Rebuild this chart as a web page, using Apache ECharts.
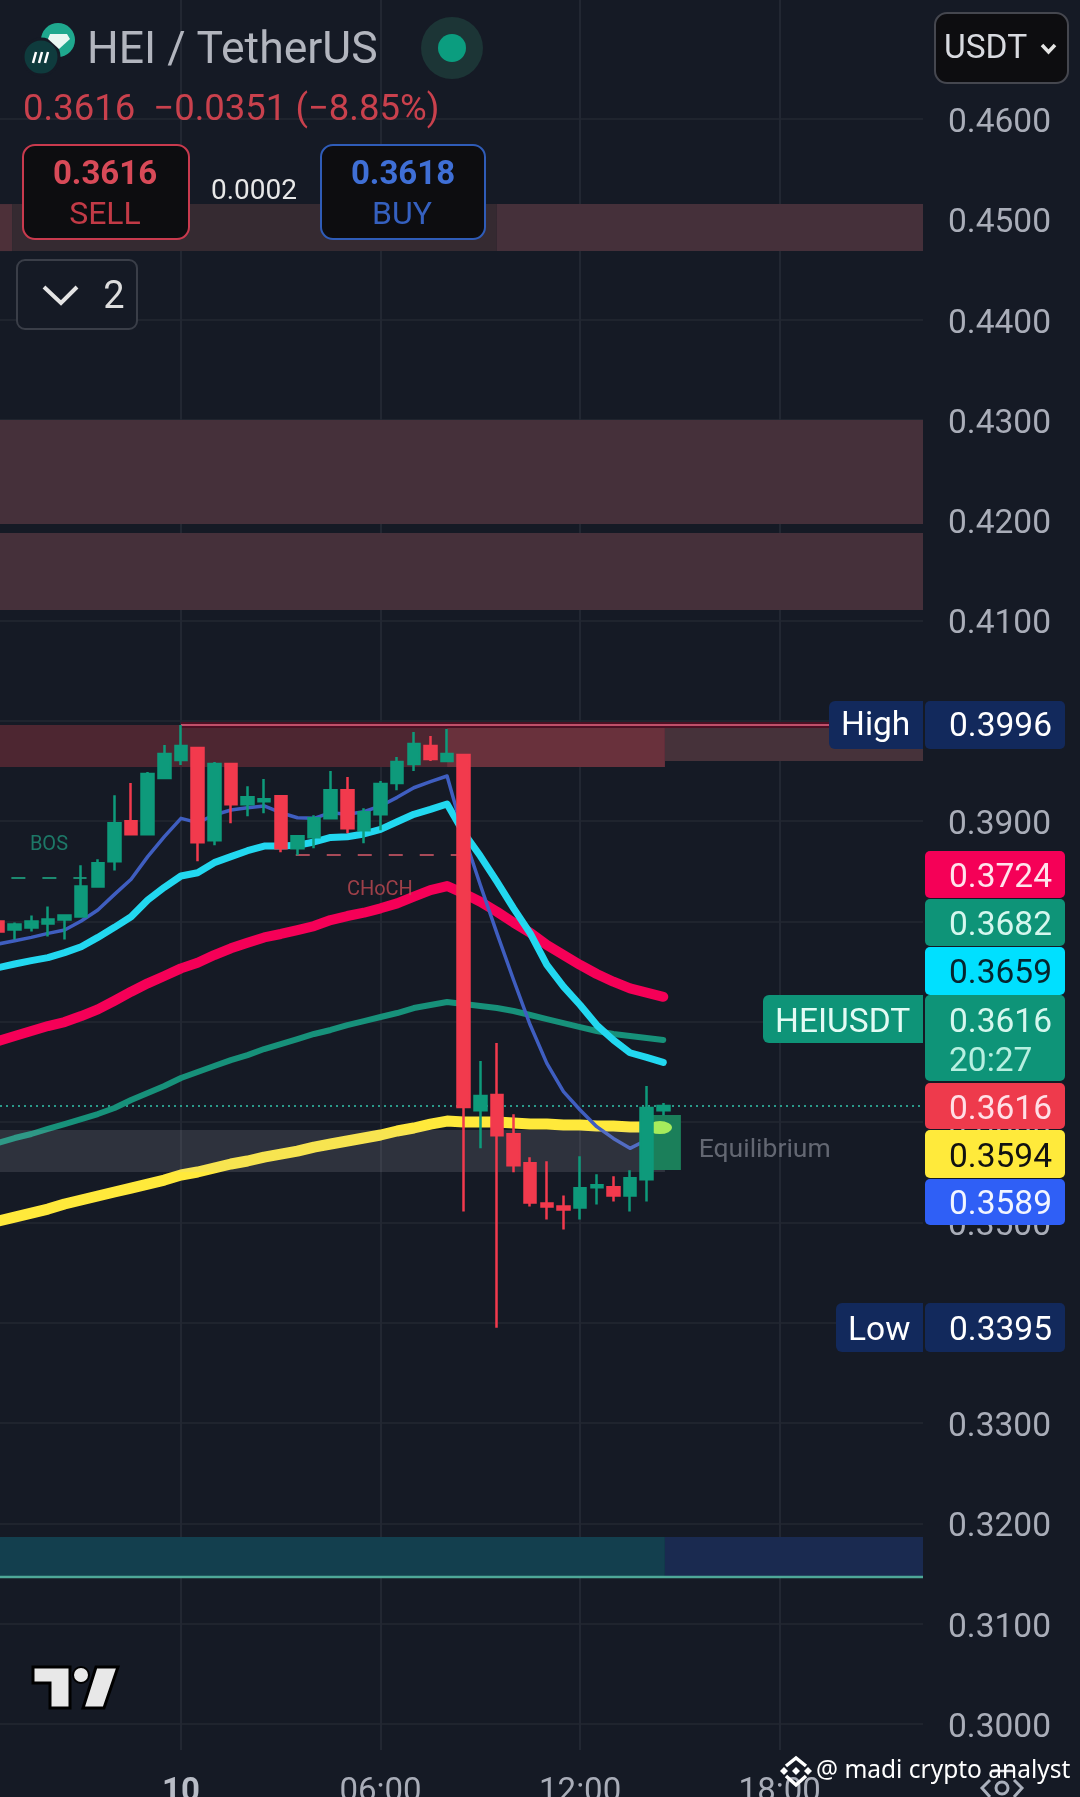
<!DOCTYPE html>
<html lang="en">

<head>
    <meta charset="UTF-8">
    <title>HEI / TetherUS</title>
    <style>
        html, body { margin: 0; padding: 0; background: #151a25; }
        #root { width: 1080px; height: 1797px; }
    </style>
</head>

<body>
    <div id="root"></div>
    <script src="https://cdn.jsdelivr.net/npm/echarts@6/dist/echarts.min.js"></script>
    <script>
        // hours from the start of the 10th, one candle per 30 minutes
        var hours = [-5.5, -5, -4.5, -4, -3.5, -3, -2.5, -2, -1.5, -1, -0.5, 0, 0.5, 1, 1.5, 2, 2.5, 3, 3.5, 4, 4.5, 5, 5.5, 6, 6.5, 7, 7.5, 8, 8.5, 9, 9.5, 10, 10.5, 11, 11.5, 12, 12.5, 13, 13.5, 14, 14.5];
        var opens = [.3800, .3792, .3794, .3798, .3802, .3805, .3835, .3860, .3900, .3887, .3943, .3961, .3973, .3881, .3957, .3917, .3920, .3925, .3873, .3884, .3903, .3931, .3891, .3907, .3938, .3957, .3975, .3960, .3966, .3612, .3627, .3588, .3559, .3519, .3516, .3515, .3535, .3535, .3527, .3543, .3612];
        var closes = [.3790, .3797, .3800, .3802, .3806, .3835, .3858, .3898, .3887, .3947, .3967, .3975, .3879, .3957, .3917, .3924, .3922, .3873, .3885, .3903, .3931, .3893, .3909, .3937, .3959, .3977, .3962, .3967, .3615, .3626, .3587, .3557, .3520, .3516, .3513, .3534, .3537, .3527, .3544, .3614, .3616];
        var lows = [.3788, .3782, .3790, .3785, .3782, .3805, .3835, .3851, .3886, .3887, .3943, .3956, .3860, .3876, .3898, .3905, .3908, .3869, .3866, .3873, .3903, .3888, .3878, .3891, .3931, .3950, .3960, .3959, .3511, .3574, .3395, .3550, .3516, .3503, .3493, .3503, .3518, .3521, .3511, .3521, .3607];
        var highs = [.3802, .3799, .3806, .3815, .3806, .3856, .3862, .3926, .3938, .3949, .3976, .3996, .3973, .3959, .3958, .3935, .3942, .3926, .3885, .3906, .3950, .3944, .3913, .3940, .3964, .3989, .3985, .3992, .3966, .3661, .3679, .3608, .3565, .3561, .3527, .3566, .3548, .3546, .3552, .3636, .3619];

        var emaBlue = [.37776, .37809, .37842, .37882, .37915, .38005, .38115, .38271, .38421, .38647, .38846, .39029, .38986, .39062, .39112, .39135, .39152, .39085, .39035, .39029, .39085, .39069, .39095, .39152, .39238, .39334, .39394, .39451, .38863, .38364, .37882, .37417, .36968, .36586, .36304, .36121, .35955, .35838, .35739, .35822, .35888];
        var emaCyan = [.3754, .37577, .3761, .3764, .3769, .37749, .37842, .37942, .38048, .38215, .38341, .38454, .38487, .38587, .38647, .38706, .38753, .38753, .3876, .38793, .38839, .38846, .38873, .38919, .38995, .39069, .39118, .39172, .38886, .38653, .38397, .38131, .37882, .37567, .37351, .37168, .36968, .36819, .36692, .36646, .36596];
        var emaPink = [.36809, .36859, .36909, .36958, .36998, .37058, .37125, .37211, .37301, .37384, .37457, .37533, .3759, .37666, .37733, .37789, .37842, .37876, .37915, .37955, .38015, .38055, .38088, .38132, .38181, .38248, .38314, .38354, .38281, .38198, .38098, .37989, .37889, .37766, .37666, .37567, .37477, .374, .37334, .37291, .3725];
        var emaGreen = [.35792, .35842, .35882, .35932, .35981, .36031, .36081, .36141, .36221, .36291, .3636, .3644, .365, .3656, .36619, .36669, .36729, .36779, .36829, .36879, .36919, .36968, .37008, .37048, .37088, .37138, .37168, .37198, .37178, .37158, .37138, .37108, .37068, .37028, .36988, .36948, .36909, .36879, .36859, .36839, .36819];
        var emaYellow = [.35014, .35054, .35094, .35134, .35184, .35224, .35264, .35304, .35343, .35383, .35423, .35473, .35503, .35543, .35583, .35613, .35652, .35682, .35712, .35752, .35782, .35812, .35842, .35872, .35912, .35942, .35981, .36011, .36001, .36001, .36001, .35991, .35981, .35981, .35971, .35971, .35961, .35961, .35952, .35952, .35942];

        var xMin = -5.442, xMax = 22.309;
        var yMin = 0.29741, yMax = 0.47187;
        var priceTicks = [.30, .31, .32, .33, .34, .35, .36, .37, .38, .39, .40, .41, .42, .43, .44, .45, .46];
        var gridPrices = priceTicks.concat([.47]);
        var timeTicks = [0, 6, 12, 18];
        var timeLabels = ["10", "06:00", "12:00", "18:00"];

        // zones behind the candles: from, to, top, bottom
        var zoneFrom = [xMin, -5.08, 9.5, xMin, xMin, xMin, 8, 14.55, xMin, 14.55];
        var zoneTo = [-5.08, 9.5, xMax, xMax, xMax, 8, 14.55, xMax, 14.55, xMax];
        var zoneTop = [.45153, .45153, .45153, .43, .41873, .39959, .39959, .39929, .31864, .31864];
        var zoneBottom = [.44684, .44684, .44684, .41963, .41106, .3954, .3954, .396, .31465, .31465];
        var zoneColors = ["#4d3039", "#352a31", "#45303a", "#45303a", "#45303a", "#4d2631", "#69313c", "#46323a", "#133f4e", "#1a2a50"];

        var equilibrium = [xMin, 14.55, .35922, .35503];
        var greenBlock = [14.19, 15.03, .36071, .35523];
        var limeMark = [14.4, .35946];

        var highLevel = .3996, highFrom = 0;
        var lastPrice = .3616;
        var bosLine = [-5.1, -2.84, .38434];
        var chochLine = [3.45, 8.3, .38663];
        var bottomLine = .31465;

        var noteX = [-3.97, 5.98, 17.55];
        var noteY = [.38763, .38314, .35722];
        var noteText = ["BOS", "CHoCH", "Equilibrium"];

        var FONT = "Roboto, sans-serif";

        function txt(x, y, s, size, color, weight, align, family) {
            return {
                type: "text", z: 110, x: x, y: y + 4,
                style: {
                    text: s, fill: color, textAlign: align || "left", textVerticalAlign: "middle",
                    font: (weight || "normal") + " " + size + "px " + (family || FONT)
                }
            };
        }
        function box(x, y, w, h, fill, r, stroke, lw) {
            return {
                type: "rect", z: 100,
                shape: { x: x, y: y, width: w, height: h, r: r || 0 },
                style: { fill: fill, stroke: stroke || null, lineWidth: lw || 0 }
            };
        }
        function poly(points, stroke, lw) {
            return { type: "polyline", z: 110, shape: { points: points }, style: { stroke: stroke, lineWidth: lw, fill: null } };
        }
        function shape(points, fill, stroke, lw) {
            return { type: "polygon", z: 110, shape: { points: points }, style: { fill: fill, stroke: stroke || null, lineWidth: lw || 0 } };
        }
        function dot(cx, cy, r, fill, stroke, lw) {
            return { type: "circle", z: 105, shape: { cx: cx, cy: cy, r: r }, style: { fill: fill, stroke: stroke || null, lineWidth: lw || 0 } };
        }

        function zoneItems(from, to, top, bottom, colors) {
            return from.map(function (f, i) {
                return [
                    { coord: [f, top[i]], itemStyle: { color: colors[i], opacity: 1 } },
                    { coord: [to[i], bottom[i]] }
                ];
            });
        }
        function ema(name, values, color, width) {
            return {
                name: name, type: "line", z: 3, symbol: "none", silent: true,
                data: hours.map(function (h, i) { return [h, values[i]]; }),
                lineStyle: { color: color, width: width, cap: "round", join: "round" }
            };
        }
        function level(name, from, to, value, color, width, type, z) {
            return {
                name: name, type: "line", z: z, symbol: "none", silent: true,
                data: [[from, value], [to, value]],
                lineStyle: { color: color, width: width, type: type || "solid" }
            };
        }

        // right hand price tags
        var tagX = 925, tagW = 140, tagTextX = 949;
        var tags = [
            box(tagX, 851, tagW, 47, "#f50057", 5), txt(tagTextX, 875, "0.3724", 33.5, "#ffe3ec"),
            box(tagX, 899, tagW, 47, "#0e9478", 5), txt(tagTextX, 923, "0.3682", 33.5, "#d5f7ee"),
            box(tagX, 947, tagW, 48, "#00e0ff", 5), txt(tagTextX, 971, "0.3659", 33.5, "#06252e"),
            box(763, 995, 160, 48, "#0e9478", [6, 0, 0, 6]), txt(775, 1020, "HEIUSDT", 33.5, "#e3fbf4"),
            box(tagX, 995, tagW, 86, "#0e9478", 5), txt(tagTextX, 1020, "0.3616", 33.5, "#d5f7ee"), txt(tagTextX, 1059, "20:27", 33.5, "#b7efe0"),
            box(tagX, 1083, tagW, 46, "#ee3a4c", 5), txt(tagTextX, 1107, "0.3616", 33.5, "#ffdfe6"),
            box(tagX, 1130, tagW, 48, "#ffea3b", 5), txt(tagTextX, 1155, "0.3594", 33.5, "#111111"),
            box(tagX, 1179, tagW, 46, "#2f5ff6", 5), txt(tagTextX, 1202, "0.3589", 33.5, "#f2f5ff"),
            box(829, 701, 94, 48, "#12295c", [6, 0, 0, 6]), txt(841, 723, "High", 33.5, "#ffffff"),
            box(tagX, 701, tagW, 48, "#12295c", 5), txt(tagTextX, 724, "0.3996", 33.5, "#ffffff"),
            box(836, 1303, 87, 49, "#12295c", [6, 0, 0, 6]), txt(848, 1328, "Low", 33.5, "#ffffff"),
            box(tagX, 1303, tagW, 49, "#12295c", 5), txt(tagTextX, 1328, "0.3395", 33.5, "#ffffff")
        ];

        var header = [
            dot(58, 40, 17, "#1fa88e"),
            shape([[50, 34], [67, 34], [70, 39], [59, 49], [48, 39]], "#e8f7f2"),
            dot(41, 57, 18, "#0f3b3d", "#151a25", 3),
            poly([[36, 52], [33, 63]], "#ffffff", 2.5), poly([[42, 52], [39, 63]], "#ffffff", 2.5), poly([[48, 52], [45, 63]], "#ffffff", 2.5),
            txt(87, 48, "HEI / TetherUS", 44.5, "#b2b5be"),
            dot(452, 48, 31, "#1c3536"), dot(452, 48, 14, "#0b9d7f"),
            txt(23, 107, "0.3616  \u22120.0351 (\u22128.85%)", 36.5, "#c9414d"),
            box(23, 145, 166, 94, "#0d0d10", 12, "#c93a4e", 2),
            txt(105, 172, "0.3616", 33, "#d84a58", "bold", "center"),
            txt(105, 212, "SELL", 32, "#c23a46", "normal", "center"),
            txt(254, 188, "0.0002", 28, "#e8e8e8", "normal", "center"),
            box(321, 145, 164, 94, "#0d0d10", 12, "#2f5cb8", 2),
            txt(403, 172, "0.3618", 33, "#3f6fd6", "bold", "center"),
            txt(402, 212, "BUY", 32, "#3560bf", "normal", "center"),
            box(17, 260, 120, 69, "#151a25", 8, "#3a3e48", 2),
            poly([[44, 287], [61, 303], [77, 287]], "#e4e4e4", 4),
            txt(114, 294, "2", 38, "#dddddd", "normal", "center"),
            box(935, 13, 133, 70, "#0d0d10", 12, "#45474f", 2),
            txt(944, 46, "USDT", 33.5, "#d8dae0"),
            poly([[1042, 45], [1048.5, 52], [1055, 45]], "#e4e4e4", 3.5)
        ];

        var logos = [
            shape([[33, 1667], [70, 1667], [70, 1708], [50, 1708], [50, 1683], [33, 1683]], "#e8e8e8", "#000000", 3),
            dot(81, 1675, 8, "#e8e8e8", "#000000", 2),
            shape([[96, 1667], [118, 1667], [104, 1708], [83, 1708]], "#e8e8e8", "#000000", 3),
            poly([[786, 1766], [796, 1758], [806, 1766]], "#ffffff", 3.5),
            poly([[786, 1776], [796, 1785], [806, 1776]], "#ffffff", 3.5),
            shape([[796, 1767], [800, 1771], [796, 1775], [792, 1771]], "#ffffff"),
            shape([[784, 1767], [788, 1771], [784, 1775], [780, 1771]], "#ffffff"),
            shape([[808, 1767], [812, 1771], [808, 1775], [804, 1771]], "#ffffff"),
            { type: "circle", z: 105, shape: { cx: 1002, cy: 1788, r: 6 }, style: { fill: null, stroke: "#aab0bc", lineWidth: 3 } },
            poly([[990, 1780], [982, 1788], [990, 1797]], "#aab0bc", 3),
            poly([[1014, 1780], [1022, 1788], [1014, 1797]], "#aab0bc", 3),
            poly([[991, 1771], [1013, 1771]], "#d8dae0", 2.5),
            txt(816, 1767, "@ madi crypto analyst", 24.5, "#ffffff", "normal", "left", "'Noto Sans', sans-serif")
        ];

        var option = {
            animation: false,
            backgroundColor: "#151a25",
            grid: { left: 0, top: 0, width: 923, height: 1750, containLabel: false, outerBoundsMode: "none" },
            xAxis: {
                type: "value", min: xMin, max: xMax, scale: true,
                axisLine: { show: false },
                axisTick: { show: false, customValues: timeTicks },
                splitLine: { show: true, customValues: timeTicks, lineStyle: { color: "#222732", width: 2 } },
                axisLabel: {
                    customValues: timeTicks, margin: 26, color: "#a9adb8",
                    fontFamily: "Roboto, sans-serif", fontSize: 33,
                    formatter: function (v) {
                        var s = timeLabels[timeTicks.indexOf(v)];
                        return v === 0 ? "{b|" + s + "}" : s;
                    },
                    rich: { b: { fontWeight: "bold", fontSize: 33, color: "#b8bcc6", fontFamily: "Roboto, sans-serif" } }
                }
            },
            yAxis: {
                type: "value", position: "right", min: yMin, max: yMax, scale: true,
                axisLine: { show: false },
                axisTick: { show: false, customValues: priceTicks },
                splitLine: { show: true, customValues: gridPrices, lineStyle: { color: "#1f242e", width: 2 } },
                axisLabel: {
                    customValues: priceTicks, margin: 25, align: "left",
                    formatter: function (v) { return "{p|" + v.toFixed(4) + "}"; },
                    // roboto sits high in its line box, push the price down a little
                    rich: { p: { color: "#a9adb8", fontFamily: "Roboto, sans-serif", fontSize: 33.5, padding: [9, 0, 0, 0] } }
                }
            },
            series: [
                {
                    name: "zones", type: "line", data: [], silent: true,
                    markArea: { silent: true, z: 1, data: zoneItems(zoneFrom, zoneTo, zoneTop, zoneBottom, zoneColors) }
                },
                level("zone low", xMin, xMax, bottomLine, "#4ea898", 2.5, "solid", 2),
                level("high band", highFrom, xMax, highLevel, "#4c1024", 6, "solid", 2),
                level("high", highFrom, xMax, highLevel, "#c0506a", 2, "solid", 2),
                level("bos", bosLine[0], bosLine[1], bosLine[2], "#1c8a70", 2, [14, 17], 2),
                level("choch", chochLine[0], chochLine[1], chochLine[2], "#a84a58", 2, [14, 17], 2),
                level("last", xMin, xMax, lastPrice, "#2a9a8a", 2, [2, 4], 2),
                ema("ema green", emaGreen, "#17917a", 6),
                ema("ema yellow", emaYellow, "#ffe93b", 11),
                ema("ema pink", emaPink, "#f50057", 10),
                ema("ema cyan", emaCyan, "#22d8f0", 7),
                ema("ema blue", emaBlue, "#3f5ec0", 3.5),
                {
                    name: "equilibrium", type: "line", data: [], silent: true,
                    markArea: {
                        silent: true, z: 4,
                        data: [[
                            { coord: [equilibrium[0], equilibrium[2]], itemStyle: { color: "rgba(200,200,210,0.14)" } },
                            { coord: [equilibrium[1], equilibrium[3]] }
                        ]]
                    }
                },
                {
                    name: "block", type: "line", data: [], silent: true,
                    markArea: {
                        silent: true, z: 4,
                        data: [[
                            { coord: [greenBlock[0], greenBlock[2]], itemStyle: { color: "#1b7f5a", opacity: 1 } },
                            { coord: [greenBlock[1], greenBlock[3]] }
                        ]]
                    }
                },
                {
                    name: "mark", type: "scatter", z: 5, silent: true, symbol: "circle", symbolSize: [24, 13],
                    data: [limeMark], itemStyle: { color: "#a6ec5c", opacity: 1 }
                },
                {
                    name: "candles", type: "candlestick", z: 6, silent: true, barWidth: 12,
                    data: hours.map(function (h, i) { return [h, opens[i], closes[i], lows[i], highs[i]]; }),
                    itemStyle: { color: "#0e9a7b", color0: "#f23a4d", borderColor: "#0e9a7b", borderColor0: "#f23a4d", borderWidth: 2.5 }
                },
                {
                    name: "notes", type: "scatter", z: 7, silent: true, symbolSize: 1,
                    itemStyle: { color: "rgba(0,0,0,0)" },
                    data: noteX.map(function (x, i) {
                        var colors = ["#1f9078", "#c04a52", "#777b86"], sizes = [20, 20, 26.5];
                        return {
                            value: [x, noteY[i]],
                            label: { show: true, position: "inside", formatter: noteText[i], color: colors[i], fontSize: sizes[i], fontFamily: "Roboto, sans-serif" }
                        };
                    })
                }
            ],
            graphic: { elements: tags.concat(header, logos) }
        };

        var instance = echarts.init(document.getElementById("root"), null, { renderer: "canvas" });
        instance.setOption(option);
    </script>
</body>

</html>
